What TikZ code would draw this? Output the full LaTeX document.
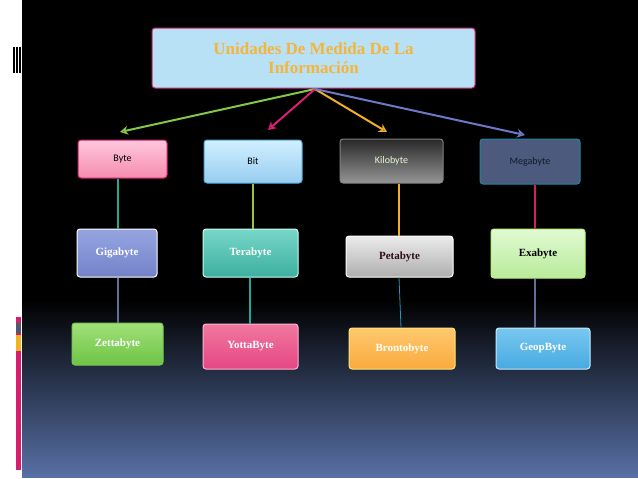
\documentclass[tikz,border=0pt]{standalone}
\usepackage{fontspec}
\setmainfont{Liberation Serif}
\newfontfamily\calfont{Carlito}
\usetikzlibrary{arrows.meta}
\definecolor{cbg}{RGB}{88,112,165}
\definecolor{cpk}{RGB}{215,30,110}
\definecolor{cgr}{RGB}{80,90,110}
\definecolor{cor}{RGB}{240,180,30}
\definecolor{ttd}{RGB}{200,40,120}
\definecolor{ttf}{RGB}{185,225,245}
\definecolor{ttt}{RGB}{245,180,60}
\definecolor{a1}{RGB}{130,200,70}
\definecolor{a2}{RGB}{220,30,120}
\definecolor{a3}{RGB}{240,175,40}
\definecolor{a4}{RGB}{110,120,200}
\definecolor{l1}{RGB}{30,170,150}
\definecolor{l2}{RGB}{150,200,60}
\definecolor{l4}{RGB}{210,30,100}
\definecolor{l5}{RGB}{100,110,150}
\definecolor{l7}{RGB}{40,150,180}
\tikzset{
 bx/.style={rounded corners=3pt, line width=1pt, align=center, inner sep=0pt},
 r1/.style={bx, font=\calfont\fontsize{10}{12}\selectfont},
 r2/.style={bx, font=\bfseries\fontsize{11}{13}\selectfont, text=white},
 ln/.style={line width=1.6pt},
 ar/.style={line width=2pt, -{Stealth[length=8pt,width=9pt,open]}}
}
\begin{document}
\begin{tikzpicture}[x=1pt,y=-1pt]
\useasboundingbox (0,0) rectangle (638,479);
\fill[white] (0,0) rectangle (638,479);
\fill[black] (22,0) rectangle (638,300);
\shade[top color=black, bottom color=cbg] (22,299.5) rectangle (638,477);
\fill[black] (13,47) rectangle (21,73);
\fill[white] (15,47) rectangle (16,73);\fill[white] (18,47) rectangle (18.6,73);
\fill[cpk] (16,317) rectangle (21,470);
\fill[cgr] (16,323) rectangle (21,333);
\fill[cor] (16,335) rectangle (21,351);
% title
\node[bx, draw=ttd, fill=ttf, minimum width=323, minimum height=60, font=\bfseries\fontsize{17}{19}\selectfont, text=ttt] (t) at (313.5,58) {Unidades De Medida De La\\Información};
\coordinate (h) at (315,89);
% row 1
\node[r1, draw=cpk, top color={rgb,255:red,255;green,200;blue,220}, bottom color={rgb,255:red,245;green,140;blue,175}, minimum width=89, minimum height=38] (byte) at (122.5,159) {Byte};
\node[r1, draw={rgb,255:red,80;green,170;blue,220}, top color={rgb,255:red,210;green,240;blue,255}, bottom color={rgb,255:red,150;green,205;blue,240}, minimum width=98, minimum height=43] (bit) at (253,161.5) {Bit};
\node[r1, draw=gray, top color={rgb,255:red,40;green,40;blue,40}, bottom color={rgb,255:red,150;green,150;blue,150}, text={rgb,255:red,230;green,250;blue,220}, minimum width=103, minimum height=44] (kb) at (391.5,161) {Kilobyte};
\node[r1, draw={rgb,255:red,40;green,130;blue,160}, fill={rgb,255:red,75;green,90;blue,125}, text={rgb,255:red,20;green,25;blue,40}, minimum width=100, minimum height=45] (mb) at (530,161.5) {Megabyte};
% row 2
\node[r2, draw=white, top color={rgb,255:red,150;green,165;blue,225}, bottom color={rgb,255:red,115;green,130;blue,200}, minimum width=80, minimum height=48] (gb) at (117,253) {Gigabyte};
\node[r2, draw={rgb,255:red,200;green,255;blue,240}, top color={rgb,255:red,120;green,215;blue,200}, bottom color={rgb,255:red,60;green,175;blue,160}, minimum width=95, minimum height=48] (tb) at (250.5,253) {Terabyte};
\node[r2, draw=white, top color={rgb,255:red,235;green,235;blue,235}, bottom color={rgb,255:red,175;green,175;blue,175}, text={rgb,255:red,50;green,10;blue,30}, minimum width=107, minimum height=41] (pb) at (399.5,256.5) {Petabyte};
\node[r2, draw={rgb,255:red,190;green,240;blue,120}, top color={rgb,255:red,225;green,250;blue,210}, bottom color={rgb,255:red,185;green,235;blue,155}, text=black, minimum width=94, minimum height=49] (eb) at (538,253.5) {Exabyte};
% row 3
\node[r2, draw={rgb,255:red,120;green,200;blue,80}, top color={rgb,255:red,160;green,225;blue,120}, bottom color={rgb,255:red,110;green,195;blue,70}, minimum width=91, minimum height=42] (zb) at (117.5,344) {Zettabyte};
\node[r2, draw={rgb,255:red,255;green,180;blue,210}, top color={rgb,255:red,240;green,120;blue,160}, bottom color={rgb,255:red,230;green,70;blue,130}, minimum width=95, minimum height=45] (yb) at (250.5,346.5) {YottaByte};
\node[r2, draw={rgb,255:red,255;green,230;blue,120}, top color={rgb,255:red,255;green,200;blue,110}, bottom color={rgb,255:red,250;green,170;blue,60}, minimum width=106, minimum height=41] (bb) at (402,348.5) {Brontobyte};
\node[r2, draw={rgb,255:red,200;green,235;blue,255}, top color={rgb,255:red,120;green,200;blue,240}, bottom color={rgb,255:red,70;green,170;blue,225}, minimum width=94, minimum height=41] (geo) at (543,348.5) {GeopByte};
% arrows
\draw[ar, a1] (h) -- (120,132);
\draw[ar, a2] (h) -- (268,130);
\draw[ar, a3] (h) -- (387,132);
\draw[ar, a4] (h) -- (525,135);
% lines
\draw[ln, l1] (byte.south -| 118,0) -- (gb.north -| 118,0);
\draw[ln, l2] (bit.south -| 253,0) -- (tb.north -| 253,0);
\draw[ln, a3] (kb.south -| 399,0) -- (pb.north -| 399,0);
\draw[ln, l4] (mb.south -| 535,0) -- (eb.north -| 535,0);
\draw[ln, l5] (gb.south -| 118,0) -- (zb.north -| 118,0);
\draw[ln, l1] (tb.south -| 250,0) -- (yb.north -| 250,0);
\draw[line width=0.8pt, l7] (pb.south -| 399,0) -- (bb.north -| 401,0);
\draw[ln, l5] (eb.south -| 535,0) -- (geo.north -| 535,0);
\end{tikzpicture}
\end{document}
